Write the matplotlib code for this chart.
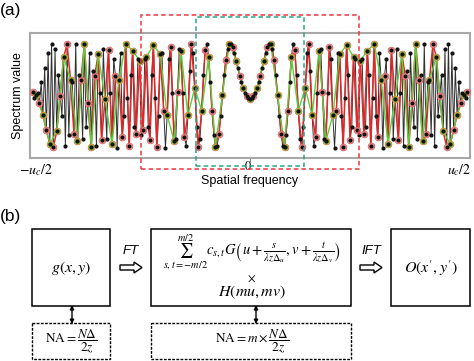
import matplotlib
matplotlib.use("Agg")
import matplotlib.pyplot as plt
import numpy as np
from matplotlib.patches import Rectangle, FancyArrow

plt.rcParams["font.family"] = ["Liberation Sans", "DejaVu Sans"]
plt.rcParams["mathtext.fontset"] = "stix"

# sample index across the spectrum, -u_c/2 ... u_c/2 (centre = 0)
freq_idx = np.arange(-126, 127)

# spectrum value at every sample (black, full sampling)
spectrum_val = np.array([
    0.06, -0.05, 0.01, 0.05, -0.14, 0.25, -0.38,
    0.52, -0.67, 0.81, -0.93, 0.99, -0.99, 0.89, -0.69, 0.39, -0.01,
    -0.39, 0.74, -0.96, 0.98, -0.75, 0.30, 0.25, -0.74, 0.99, -0.87,
    0.39, 0.29, -0.84, 0.99, -0.60, -0.14, 0.81, -0.98, 0.48, 0.38,
    -0.96, 0.79, 0.05, -0.86, 0.89, -0.06, -0.84, 0.87, 0.05, -0.93,
    0.71, 0.38, -1.00, 0.30, 0.81, -0.79, -0.39, 0.99, -0.05, -0.97,
    0.39, 0.86, -0.60, -0.74, 0.71, 0.67, -0.75, -0.67, 0.71, 0.74,
    -0.60, -0.86, 0.39, 0.97, -0.05, -0.99, -0.39, 0.79, 0.81, -0.30,
    -1.00, -0.38, 0.71, 0.93, 0.05, -0.87, -0.84, 0.06, 0.89, 0.86,
    0.05, -0.79, -0.96, -0.38, 0.48, 0.98, 0.81, 0.14, -0.60, -0.99,
    -0.84, -0.29, 0.39, 0.87, 0.99, 0.74, 0.25, -0.30, -0.75, -0.98,
    -0.96, -0.74, -0.39, 0.01, 0.39, 0.69, 0.89, 0.99, 0.99, 0.93,
    0.81, 0.67, 0.52, 0.38, 0.25, 0.14, 0.05, -0.01, -0.05,
    -0.06,
    -0.05, -0.01, 0.05, 0.14, 0.25, 0.38, 0.52, 0.67, 0.81,
    0.93, 0.99, 0.99, 0.89, 0.69, 0.39, 0.01, -0.39, -0.74, -0.96,
    -0.98, -0.75, -0.30, 0.25, 0.74, 0.99, 0.87, 0.39, -0.29, -0.84,
    -0.99, -0.60, 0.14, 0.81, 0.98, 0.48, -0.38, -0.96, -0.79, 0.05,
    0.86, 0.89, 0.06, -0.84, -0.87, 0.05, 0.93, 0.71, -0.38, -1.00,
    -0.30, 0.81, 0.79, -0.39, -0.99, -0.05, 0.97, 0.39, -0.86, -0.60,
    0.74, 0.71, -0.67, -0.75, 0.67, 0.71, -0.74, -0.60, 0.86, 0.39,
    -0.97, -0.05, 0.99, -0.39, -0.79, 0.81, 0.30, -1.00, 0.38, 0.71,
    -0.93, 0.05, 0.87, -0.84, -0.06, 0.89, -0.86, 0.05, 0.79, -0.96,
    0.38, 0.48, -0.98, 0.81, -0.14, -0.60, 0.99, -0.84, 0.29, 0.39,
    -0.87, 0.99, -0.74, 0.25, 0.30, -0.75, 0.98, -0.96, 0.74, -0.39,
    -0.01, 0.39, -0.69, 0.89, -0.99, 0.99, -0.93, 0.81, -0.67, 0.52,
    -0.38, 0.25, -0.14, 0.05, 0.01, -0.05, 0.06,
])

# red: every 2nd sample, green: every 4th sample
sel_red = freq_idx % 2 == 0
sel_green = freq_idx % 4 == 0
red_idx, red_val = freq_idx[sel_red], spectrum_val[sel_red]
green_idx, green_val = freq_idx[sel_green], spectrum_val[sel_green]

half_range = 126

fig = plt.figure(figsize=(4.74, 3.61), dpi=100)
W, H = 474, 361
ax = fig.add_axes([30 / W, 1 - 158 / H, 440 / W, 125 / H])

ax.plot(freq_idx, spectrum_val, color="#303030", lw=0.7, zorder=1)
ax.plot(red_idx, red_val, color="#e02828", lw=1.1, zorder=2)
ax.plot(green_idx, green_val, color="#58d03c", lw=1.0, zorder=3)
ax.plot(red_idx, red_val, "o", ms=4.8, mfc="#f3a0a0", mec="#e06060", mew=0.6,
        ls="none", zorder=4)
ax.plot(green_idx, green_val, "o", ms=4.3, mfc="#5ccc2c", mec="#c8a040", mew=0.6,
        ls="none", zorder=5)
ax.plot(freq_idx, spectrum_val, "o", ms=2.0, color="#111111", ls="none", zorder=6)

ax.set_xlim(-127.5, 127.5)
ax.set_ylim(-1.2, 1.2)
ax.set_yticks([])
ax.set_xticks([0])
ax.set_xticklabels([])
ax.tick_params(axis="x", length=3, color="#888888")
for sp in ax.spines.values():
    sp.set_color("#a8a8a8")
    sp.set_linewidth(1.5)

# sampling windows (half and quarter of the band)
ax.add_patch(Rectangle((-half_range / 2, -1.42), half_range, 2.97, fill=False,
                       ec="#e8383c", ls=(0, (3, 2)), lw=1.1, clip_on=False, zorder=7))
ax.add_patch(Rectangle((-half_range / 4, -1.36), half_range / 2, 2.87, fill=False,
                       ec="#2aa58a", ls=(0, (3, 2)), lw=1.1, clip_on=False, zorder=7))

tr = ax.get_xaxis_transform()
ax.text(-124, -0.1, r"$-u_c/2$", transform=tr, ha="center", va="center", fontsize=10)
ax.text(121, -0.1, r"$u_c/2$", transform=tr, ha="center", va="center", fontsize=10)
ax.text(-1, -0.065, r"$0$", transform=tr, ha="center", va="center", fontsize=9)
ax.text(0, -0.18, "Spatial frequency", transform=tr, ha="center", va="center", fontsize=9)
ax.set_ylabel("Spectrum value", fontsize=9, labelpad=4)

# part (b) diagram in pixel coordinates
ov = fig.add_axes([0, 0, 1, 1], zorder=-1)
ov.set_xlim(0, W)
ov.set_ylim(H, 0)
ov.axis("off")

ov.text(0, 11, "(a)", fontsize=12.5, va="center", ha="left")
ov.text(0, 216, "(b)", fontsize=12.5, va="center", ha="left")

for x0, x1 in [(32, 110), (151, 351), (391, 470)]:
    ov.add_patch(Rectangle((x0, 229), x1 - x0, 77, fill=False, ec="black", lw=1.1))
for x0, x1 in [(32, 110), (151, 351)]:
    ov.add_patch(Rectangle((x0, 323), x1 - x0, 36, fill=False, ec="black", lw=1.0,
                           ls=(0, (2, 1))))

for xa in [72, 256]:
    ov.annotate("", xy=(xa, 305), xytext=(xa, 324),
                arrowprops=dict(arrowstyle="<|-|>", lw=1.0, color="black",
                                mutation_scale=6, shrinkA=0, shrinkB=0))

for xa, lab in [(120, "FT"), (360, "IFT")]:
    ov.add_patch(FancyArrow(xa, 267.5, 22, 0, width=5, head_width=11, head_length=8,
                            length_includes_head=True, fc="white", ec="black", lw=1.0))
    ov.text(xa + 11, 251, lab, fontsize=9.5, fontstyle="italic", ha="center", va="center")

ov.text(71, 268, r"$g(x,y)$", fontsize=11.5, ha="center", va="center")
ov.text(252, 252, r"$\sum_{s,t=-m/2}^{m/2} c_{s,t}G\left(u+\frac{s}{\lambda z\Delta_u},"
        r"v+\frac{t}{\lambda z\Delta_v}\right)$",
        fontsize=10.5, ha="center", va="center")
ov.text(252, 278.5, r"$\times$", fontsize=8.5, ha="center", va="center")
ov.text(252, 292, r"$H(mu,mv)$", fontsize=11.5, ha="center", va="center")
ov.text(431, 268, r"$O(x',y')$", fontsize=11.5, ha="center", va="center")
ov.text(71, 341, r"$\mathrm{NA}=\dfrac{N\Delta}{2z}$", fontsize=9.5, ha="center", va="center")
ov.text(252, 341, r"$\mathrm{NA}=m\times\dfrac{N\Delta}{2z}$", fontsize=9.5,
        ha="center", va="center")

fig.savefig("out.png", dpi=100)
